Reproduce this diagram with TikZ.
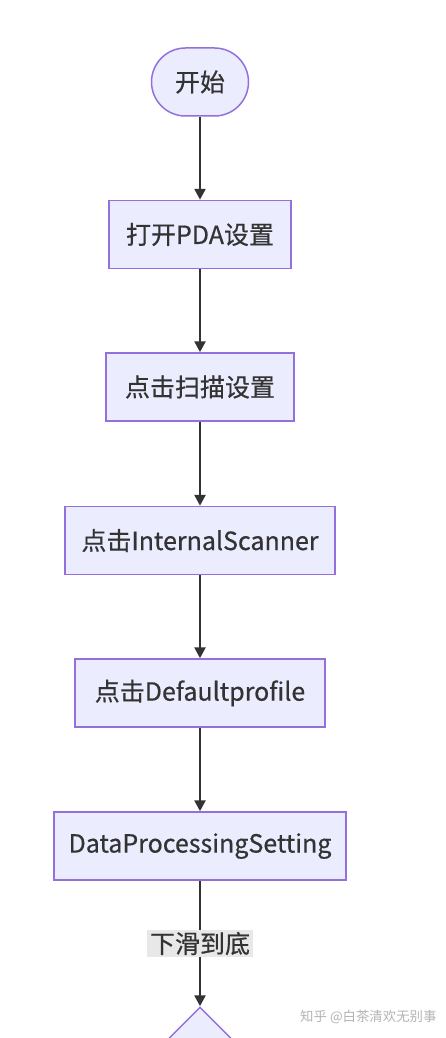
\documentclass[tikz,border=0pt]{standalone}
\usepackage{fontspec}
\setmainfont{Noto Sans CJK SC}
\newfontfamily\lblfont{Noto Sans CJK SC}[FakeBold=0.5]
\usetikzlibrary{arrows.meta,shapes.geometric}
\definecolor{nodefill}{HTML}{ECECFF}
\definecolor{nodeline}{HTML}{9370DB}
\definecolor{edgecol}{HTML}{333333}
\definecolor{lblbg}{HTML}{E8E8E8}
\definecolor{wm}{HTML}{B4B4B4}
\begin{document}
\begin{tikzpicture}[x=1pt,y=-1pt,
  box/.style={draw=nodeline, fill=nodefill, line width=1.5pt, minimum height=68pt, inner sep=0pt, font=\lblfont\fontsize{25}{29}\selectfont, text=edgecol},
  stadium/.style={box, rounded corners=34pt, minimum width=97pt},
  decision/.style={draw=nodeline, fill=nodefill, line width=1.5pt, diamond, minimum width=140pt, minimum height=140pt, inner sep=0pt},
  flow/.style={draw=edgecol, line width=2.5pt, -{Triangle[length=11pt,width=11pt]}},
  elabel/.style={fill=lblbg, inner xsep=3pt, inner ysep=2pt, font=\lblfont\fontsize{25}{29}\selectfont, text=edgecol},
  wmark/.style={text=wm, font=\fontsize{13.4}{15}\selectfont, anchor=west, inner sep=0pt}
]
\useasboundingbox (0,0) rectangle (446,1038);
\fill[white] (0,0) rectangle (446,1038);
\node[stadium] (start) at (200,82) {开始};
\node[box, minimum width=182pt] (b1) at (200,234.5) {打开PDA设置};
\node[box, minimum width=188pt] (b2) at (200,387) {点击扫描设置};
\node[box, minimum width=270pt] (b3) at (200,540.5) {点击InternalScanner};
\node[box, minimum width=250pt] (b4) at (200,693) {点击Defaultprofile};
\node[box, minimum width=292pt] (b5) at (200,846) {DataProcessingSetting};
\node[decision] (d) at (200,1077) {};
\draw[flow] (start) -- (b1);
\draw[flow] (b1) -- (b2);
\draw[flow] (b2) -- (b3);
\draw[flow] (b3) -- (b4);
\draw[flow] (b4) -- (b5);
\draw[flow] (b5.south) -- node[elabel] (lbl) {下滑到底} (d.north);
\node[wmark] (wm) at (300,1017) {知乎 @白茶清欢无别事};
\end{tikzpicture}
\end{document}
